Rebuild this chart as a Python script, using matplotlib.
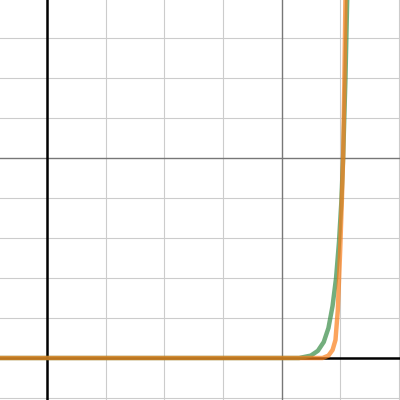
import matplotlib
matplotlib.use("Agg")
import matplotlib.pyplot as plt

green_x = [-1.0, 4.3, 4.5, 4.62, 4.72, 4.8, 4.87, 4.93, 4.98, 5.02, 5.05, 5.09, 5.12, 5.15]
green_y = [0.0, 0.0, 0.06, 0.18, 0.4, 0.75, 1.3, 2.0, 2.9, 3.9, 5.0, 7.0, 9.0, 11.0]
orange_x = [-1.0, 4.7, 4.8, 4.87, 4.92, 4.96, 5.0, 5.03, 5.05, 5.07, 5.09, 5.11]
orange_y = [0.0, 0.0, 0.06, 0.2, 0.45, 1.2, 2.7, 4.0, 5.0, 6.8, 9.0, 11.0]

fig = plt.figure(figsize=(4, 4), dpi=100)
ax = fig.add_axes([0, 0, 1, 1])
ax.set_xlim(-0.80, 6.02)
ax.set_ylim(-1.05, 8.95)
for x in [1, 2, 3, 5, 6]:
    ax.axvline(x, color="#cccccc", lw=0.8, zorder=0)
for y in [-1, 1, 2, 3, 4, 6, 7, 8, 9]:
    ax.axhline(y, color="#cccccc", lw=0.8, zorder=0)
ax.axvline(4, color="#777777", lw=1.0, zorder=0)
ax.axhline(5, color="#777777", lw=1.0, zorder=0)
ax.axvline(0, color="black", lw=1.8, zorder=1)
ax.axhline(0, color="black", lw=1.8, zorder=1)
ax.plot(green_x, green_y, color="#388c46", alpha=0.7, lw=3.2, zorder=2)
ax.plot(orange_x, orange_y, color="#fa7e19", alpha=0.7, lw=3.2, zorder=3)
ax.axis("off")
fig.savefig("out.png", dpi=100)
